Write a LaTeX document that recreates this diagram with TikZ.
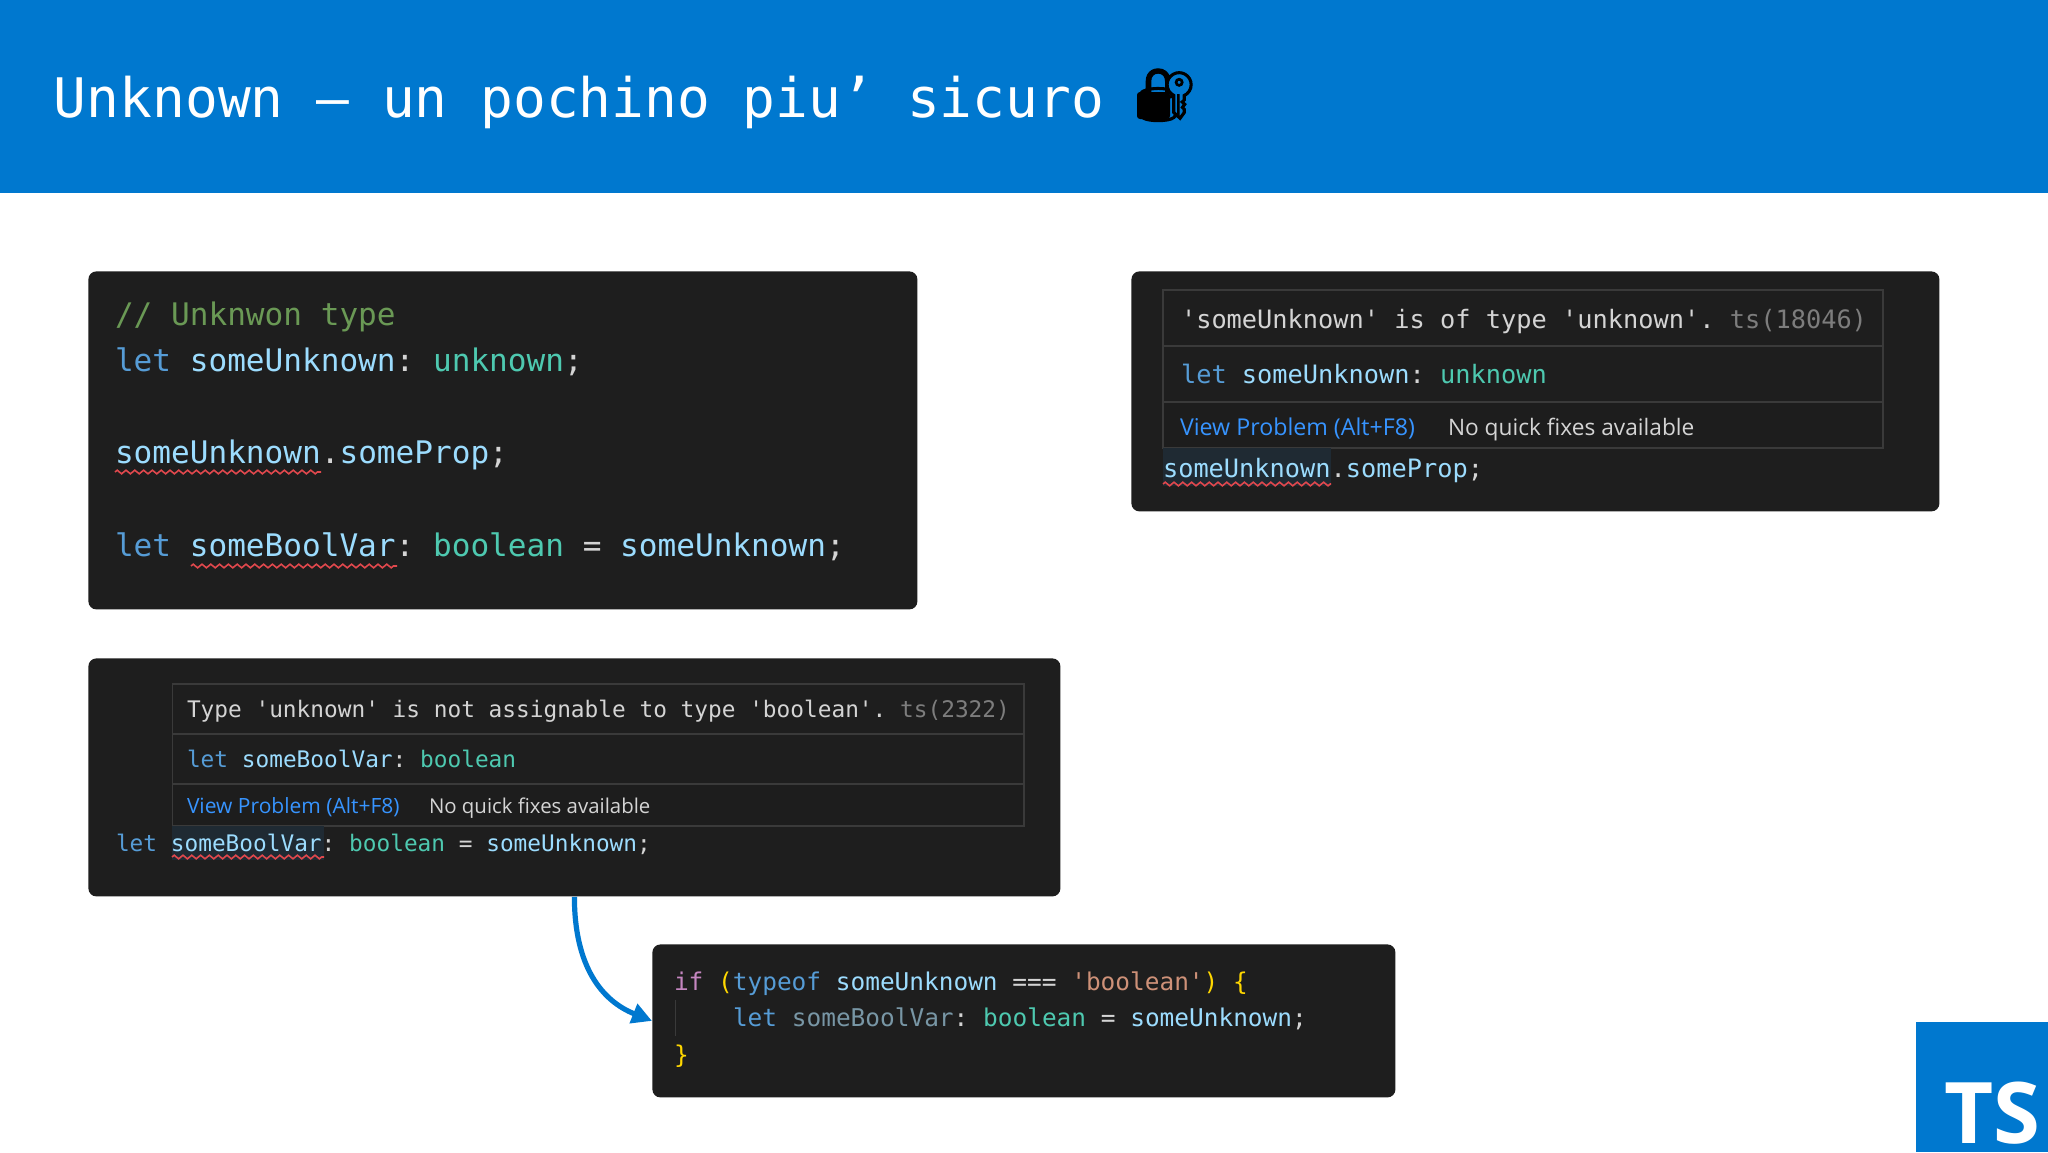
\documentclass[tikz,border=0pt]{standalone}
\usepackage{fontspec}
\usetikzlibrary{decorations.pathmorphing,arrows.meta}
\newfontfamily\mono{DejaVu Sans Mono}
\newfontfamily\uisans{Open Sans}
\newfontfamily\emojifont{Noto Emoji}[FakeBold=2]
\definecolor{hdr}{RGB}{0,120,207}
\definecolor{pbg}{RGB}{30,30,30}
\definecolor{cKw}{RGB}{86,156,214}
\definecolor{cVar}{RGB}{156,220,254}
\definecolor{cTy}{RGB}{78,201,176}
\definecolor{cCm}{RGB}{106,153,85}
\definecolor{cPl}{RGB}{212,212,212}
\definecolor{cStr}{RGB}{206,145,120}
\definecolor{cIf}{RGB}{197,134,192}
\definecolor{cGold}{RGB}{255,215,0}
\definecolor{cDim}{RGB}{120,150,165}
\definecolor{cTs}{RGB}{125,125,125}
\definecolor{cLink}{RGB}{55,148,255}
\definecolor{cSq}{RGB}{224,72,77}
\definecolor{cSel}{RGB}{31,42,51}
\definecolor{cBorder}{RGB}{58,58,58}
\newcommand{\kw}[1]{\textcolor{cKw}{#1}}
\newcommand{\vr}[1]{\textcolor{cVar}{#1}}
\newcommand{\ty}[1]{\textcolor{cTy}{#1}}
\newcommand{\fs}[1]{\fontsize{#1}{#1}\selectfont}
\frenchspacing
\tikzset{
  panel/.style={fill=pbg,draw=none,rounded corners=4pt,anchor=north west,inner sep=0pt},
  tiprow/.style={fill=pbg,draw=cBorder,line width=0.6pt,anchor=north west,inner sep=0pt,minimum width=#1,outer sep=0pt},
  txt/.style={anchor=base west,inner sep=0pt,outer sep=0pt,text=cPl},
  big/.style={txt,font=\mono\fs{15.54}},
  med/.style={txt,font=\mono\fs{12.66}},
  sml/.style={txt,font=\mono\fs{11.39}},
  cnd/.style={txt,font=\mono\fs{12.22}},
  ui/.style={txt,font=\uisans\fs{#1}},
  squig/.style={draw=cSq,line width=0.8pt,decorate,decoration={zigzag,amplitude=0.9pt,segment length=4.4pt}},
  flow/.style={draw=hdr,line width=2.6pt,-{Triangle[length=10pt,width=10pt]}},
  sel/.style={fill=cSel,draw=none,anchor=north west,inner sep=0pt}
}
\begin{document}
\begin{tikzpicture}[x=0.5pt,y=-0.5pt]
\useasboundingbox (0,0) rectangle (2048,1152);
\fill[white] (0,0) rectangle (2048,1152);
% header
\node[anchor=north west,fill=hdr,inner sep=0pt,minimum width=1024pt,minimum height=96.5pt] (header) at (0,0) {};
\node[txt,text=white,font=\mono\fs{27.25}] (title) at (54,117) {Unknown – un pochino piu’ sicuro};
\fill[black,rounded corners=1.5pt] (1137,92) rectangle (1170,119);
\node[txt,text=black,font=\emojifont\fs{26}] (lock) at (1133,113) {🔐};
% panel 1
\node[panel,minimum width=414.5pt,minimum height=169pt] (p1) at (88,271) {};
\node[big,text=cCm] (p1a) at (115,325) {// Unknwon type};
\node[big] (p1b) at (115,371) {\kw{let} \vr{someUnknown}: \ty{unknown};};
\node[big] (p1c) at (115,463) {\vr{someUnknown}.\vr{someProp};};
\node[big] (p1d) at (115,556) {\kw{let} \vr{someBoolVar}: \ty{boolean} = \vr{someUnknown};};
\draw[squig] (115,472) -- (321,472);
\draw[squig] (191,566) -- (397,566);
% panel 2
\node[panel,minimum width=404pt,minimum height=120pt] (p2) at (1131,271) {};
\node[tiprow=360pt,minimum height=28pt] (t2a) at (1163,290) {};
\node[tiprow=360pt,minimum height=28pt] (t2b) at (1163,346) {};
\node[tiprow=360pt,minimum height=23pt,fill=black!3!pbg] (t2c) at (1163,402) {};
\node[sel,minimum width=84pt,minimum height=19pt] (s2) at (1163,448) {};
\node[med] (t2at) at (1181,328) {'someUnknown' is of type 'unknown'. \textcolor{cTs}{ts(18046)}};
\node[med] (t2bt) at (1181,383) {\kw{let} \vr{someUnknown}: \ty{unknown}};
\node[ui=11.6,text=cLink] (t2v) at (1180,435) {View Problem (Alt+F8)};
\node[ui=11.35] (t2n) at (1448,435) {No quick fixes available};
\node[med] (p2c) at (1163,477) {\vr{someUnknown}.\vr{someProp};};
\draw[squig] (1163,484) -- (1331,484);
% panel 3
\node[panel,minimum width=486pt,minimum height=119pt] (p3) at (88,658) {};
\node[tiprow=425.75pt,minimum height=25pt] (t3a) at (172.5,684) {};
\node[tiprow=425.75pt,minimum height=25pt] (t3b) at (172.5,734) {};
\node[tiprow=425.75pt,minimum height=21pt,fill=black!3!pbg] (t3c) at (172.5,784) {};
\node[sel,minimum width=76pt,minimum height=17pt] (s3) at (172,826) {};
\node[sml] (t3at) at (187,717) {Type 'unknown' is not assignable to type 'boolean'. \textcolor{cTs}{ts(2322)}};
\node[sml] (t3bt) at (187,767) {\kw{let} \vr{someBoolVar}: \ty{boolean}};
\node[ui=10.5,text=cLink] (t3v) at (187,813) {View Problem (Alt+F8)};
\node[ui=10.2] (t3n) at (429,813) {No quick fixes available};
\node[sml] (p3c) at (116,851) {\kw{let} \vr{someBoolVar}: \ty{boolean} = \vr{someUnknown};};
\draw[squig] (172,857) -- (324,857);
% panel 4
\node[panel,minimum width=371.5pt,minimum height=76.5pt] (p4) at (652,944) {};
\node[cnd] (p4a) at (674,990) {\textcolor{cIf}{if} \textcolor{cGold}{(}\kw{typeof} \vr{someUnknown} === \textcolor{cStr}{'boolean'}\textcolor{cGold}{)} \textcolor{cGold}{\{}};
\node[cnd] (p4b) at (733,1026) {\kw{let} \textcolor{cDim}{someBoolVar}: \ty{boolean} = \vr{someUnknown};};
\node[cnd,text=cGold] (p4c) at (674,1063) {\}};
\draw[draw=cBorder,line width=0.5pt] (675,1000) -- (675,1036);
% arrow
\draw[flow] (p3.south) .. controls +(0,70) and +(-50,-20) .. (p4.west);
% logo
\node[anchor=north west,fill=hdr,inner sep=0pt,minimum width=66pt,minimum height=65pt] (logo) at (1916,1022) {};
\node[txt,text=white,font=\uisans\bfseries\fs{42.5}] (logot) at (1944,1143) {TS};
\end{tikzpicture}
\end{document}
